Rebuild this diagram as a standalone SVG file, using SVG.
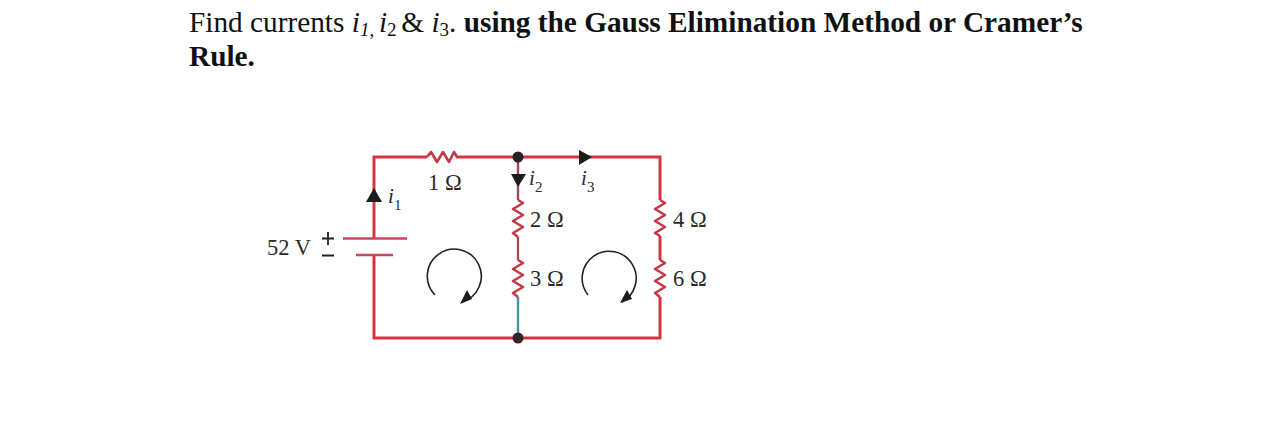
<svg xmlns="http://www.w3.org/2000/svg" width="1284" height="437" viewBox="0 0 1284 437">
<style>
text{font-family:"Liberation Serif","Times New Roman",serif;fill:#1a1a1a}
.h{font-size:29.3px;fill:#111}
.b{font-weight:bold}
.i{font-style:italic}
.l{font-size:22.5px;fill:#2a2a2a}
.s{font-size:15px;fill:#2a2a2a}
.n{font-size:21px;font-style:italic;fill:#2a2a2a}
.w{fill:none;stroke:#d8343f;stroke-width:3;stroke-linejoin:miter}
.r{fill:none;stroke:#c23a48;stroke-width:2.6;stroke-linejoin:round}
.p{fill:none;stroke:#c9475a;stroke-width:2.4}
.a{fill:#1c1c1c}
.c{fill:none;stroke:#222;stroke-width:1.6}
</style>
<rect width="1284" height="437" fill="#fff"/>
<g id="title">
<text class="h" x="189" y="32">Find currents <tspan class="i">i</tspan><tspan class="i" font-size="19" dy="4">1, </tspan><tspan class="i" dy="-4">i</tspan><tspan font-size="19" dy="4">2 </tspan><tspan dy="-4">&amp; </tspan><tspan class="i">i</tspan><tspan font-size="19" dy="4">3</tspan><tspan dy="-4">. </tspan><tspan class="b">using the Gauss Elimination Method or Cramer’s</tspan></text>
<text class="h b" x="189" y="66">Rule.</text>
</g>
<g id="connectors">
<path class="w" d="M374 238V157H427M456 157H660V200M660 236V260M660 297V338H374V255"/>
<path d="M518 157V200" fill="none" stroke="#a8464f" stroke-width="2.4"/>
<path d="M518 237V260" fill="none" stroke="#a8464f" stroke-width="2.2"/>
<path d="M518 297V338" fill="none" stroke="#3f9aa0" stroke-width="2.4"/>
</g>
<g id="node-r1"><path class="r" d="M427 157L431 152L437 162L443 152L449 162L454 152L457 157"/><text class="l" x="428" y="190">1 Ω</text></g>
<g id="node-r2"><path class="r" d="M518 200L523 203L513 209L523 215L513 221L523 227L513 233L518 237"/><text class="l" x="530" y="227">2 Ω</text></g>
<g id="node-r3"><path class="r" d="M518 260L523 263L513 269L523 275L513 281L523 287L513 293L518 297"/><text class="l" x="530" y="286">3 Ω</text></g>
<g id="node-r4"><path class="r" d="M660 200L665 203L655 209L665 215L655 221L665 227L655 233L660 236"/><text class="l" x="673" y="227">4 Ω</text></g>
<g id="node-r6"><path class="r" d="M660 260L665 263L655 269L665 275L655 281L665 287L655 293L660 297"/><text class="l" x="673" y="286">6 Ω</text></g>
<g id="node-battery">
<path class="p" d="M343 238.500H407"/>
<path class="p" d="M356 255H393" stroke="#a9566e"/>
<text class="l" x="267" y="255">52 V</text>
<path d="M322 238.500H334M328 232V245M322 255.500H334" fill="none" stroke="#222" stroke-width="1.800"/>
</g>
<g id="node-top-junction"><circle cx="518" cy="157" r="5.500" fill="#2b2228"/></g>
<g id="node-bottom-junction"><circle cx="518" cy="338" r="5.500" fill="#3a2228"/></g>
<g id="node-i1"><path class="a" d="M374 188L382 202H366Z"/><text class="n" x="388" y="203">i</text><text class="s" x="394" y="210">1</text></g>
<g id="node-i2"><path class="a" d="M518 187L511 174H526Z"/><text class="n" x="529" y="185">i</text><text class="s" x="535" y="192">2</text></g>
<g id="node-i3"><path class="a" d="M592 157L579 150V165Z"/><text class="n" x="581" y="185">i</text><text class="s" x="587" y="192">3</text></g>
<g id="node-loop1"><path class="c" d="M435 295A27 27 0 1 1 462 302"/><path class="a" d="M460 304L467 290L472 299Z"/></g>
<g id="node-loop2"><path class="c" d="M588 295A27 27 0 1 1 622 302"/><path class="a" d="M620 303L627 290L632 299Z"/></g>
</svg>
